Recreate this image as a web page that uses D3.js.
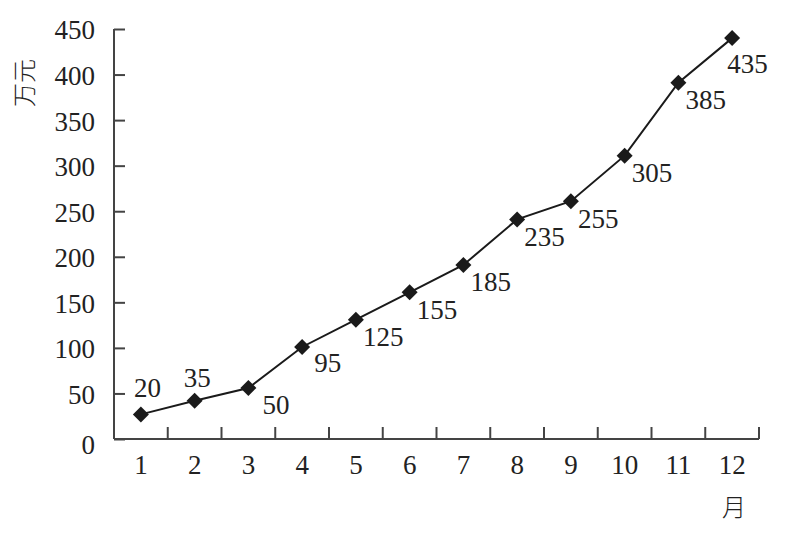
<!DOCTYPE html>
<html>
<head>
<meta charset="utf-8">
<script src="https://cdn.jsdelivr.net/npm/d3@7"></script>
<style>
  body { margin: 0; background: #fff; }
</style>
</head>
<body>
<div id="chart"></div>
<script>
var width = 786,
    height = 536;

// months on x axis
var months = ["1","2","3","4","5","6","7","8","9","10","11","12"];
// where the points sit on the y scale
var values = [27, 42, 56, 101, 131, 161, 191, 241, 261, 311, 391, 440];
// numbers printed beside the points
var labels = [20, 35, 50, 95, 125, 155, 185, 235, 255, 305, 385, 435];
var yTicks = [0, 50, 100, 150, 200, 250, 300, 350, 400, 450];

var serif = "'Liberation Serif', 'DejaVu Serif', 'Times New Roman', serif";
var cjk = "'Noto Sans CJK SC', sans-serif";

var margin = {left: 114, right: 27, top: 29, bottom: 97};

var svg = d3.select("#chart").append("svg")
    .attr("width", width)
    .attr("height", height)
    .style("font-family", serif);

var x = d3.scaleBand()
    .domain(months)
    .range([margin.left, width - margin.right]);

var y = d3.scaleLinear()
    .domain([0, 450])
    .range([height - margin.bottom, margin.top]);

var axisColor = "#444";

// y axis, ticks pointing inward
var gy = svg.append("g")
    .attr("transform", "translate(" + margin.left + ",0)")
    .call(d3.axisRight(y).tickValues(yTicks).tickSize(11).tickFormat(""));
gy.select(".domain").attr("d", "M0," + y(450) + "V" + y(0)).attr("stroke", axisColor).attr("stroke-width", 2);
gy.selectAll(".tick line").attr("stroke", axisColor).attr("stroke-width", 2);

svg.append("g").selectAll("text")
    .data(yTicks)
    .enter().append("text")
    .attr("x", 95)
    .attr("y", function(d) { return y(d) + (d === 0 ? 6 : 1); })
    .attr("dy", "0.35em")
    .attr("text-anchor", "end")
    .style("font-family", serif)
    .style("font-size", "27px")
    .style("fill", "#222")
    .text(function(d) { return d; });

// x axis, ticks between months pointing up
var gx = svg.append("g")
    .attr("transform", "translate(0," + y(0) + ")");
gx.append("line")
    .attr("x1", margin.left).attr("x2", width - margin.right)
    .attr("stroke", axisColor).attr("stroke-width", 2);
gx.selectAll(".tk")
    .data(months)
    .enter().append("line")
    .attr("class", "tk")
    .attr("x1", function(d) { return x(d) + x.bandwidth(); })
    .attr("x2", function(d) { return x(d) + x.bandwidth(); })
    .attr("y1", 0).attr("y2", -12)
    .attr("stroke", axisColor).attr("stroke-width", 2);
gx.selectAll(".lbl")
    .data(months)
    .enter().append("text")
    .attr("class", "lbl")
    .attr("x", function(d) { return x(d) + x.bandwidth() / 2; })
    .attr("y", 26)
    .attr("dy", "0.35em")
    .attr("text-anchor", "middle")
    .style("font-family", serif)
    .style("font-size", "27px")
    .style("fill", "#222")
    .text(function(d) { return d; });

// axis titles
svg.append("text")
    .attr("transform", "translate(25,83) rotate(-90)")
    .attr("text-anchor", "middle")
    .attr("dy", "0.35em")
    .style("font-family", cjk)
    .style("font-weight", "300")
    .style("font-size", "24px")
    .style("fill", "#222")
    .text("万元");

svg.append("text")
    .attr("x", 734)
    .attr("y", 508)
    .attr("text-anchor", "middle")
    .attr("dy", "0.35em")
    .style("font-family", cjk)
    .style("font-weight", "300")
    .style("font-size", "24px")
    .style("fill", "#222")
    .text("月");

var data = months.map(function(m, i) { return {m: m, v: values[i], l: labels[i], i: i}; });

var line = d3.line()
    .x(function(d) { return x(d.m) + x.bandwidth() / 2; })
    .y(function(d) { return y(d.v); });

svg.append("path")
    .datum(data)
    .attr("d", line)
    .attr("fill", "none")
    .attr("stroke", "#1a1a1a")
    .attr("stroke-width", 2);

svg.selectAll(".pt")
    .data(data)
    .enter().append("path")
    .attr("class", "pt")
    .attr("d", d3.symbol().type(d3.symbolSquare).size(128))
    .attr("transform", function(d) {
        return "translate(" + (x(d.m) + x.bandwidth() / 2) + "," + y(d.v) + ") rotate(45)";
    })
    .attr("fill", "#1a1a1a");

// label placement: first two above, rest below-right
var off = function(i) {
    if (i === 0) return [-7, -27];
    if (i === 1) return [-11, -23];
    if (i === 2) return [14, 17];
    if (i === 3) return [12, 16];
    if (i === 11) return [-5, 25];
    return [7, 17];
};

svg.selectAll(".vl")
    .data(data)
    .enter().append("text")
    .attr("class", "vl")
    .attr("x", function(d) { return x(d.m) + x.bandwidth() / 2 + off(d.i)[0]; })
    .attr("y", function(d) { return y(d.v) + off(d.i)[1]; })
    .attr("dy", "0.35em")
    .style("font-family", serif)
    .style("font-size", "27px")
    .style("fill", "#222")
    .text(function(d) { return d.l; });
</script>
</body>
</html>
